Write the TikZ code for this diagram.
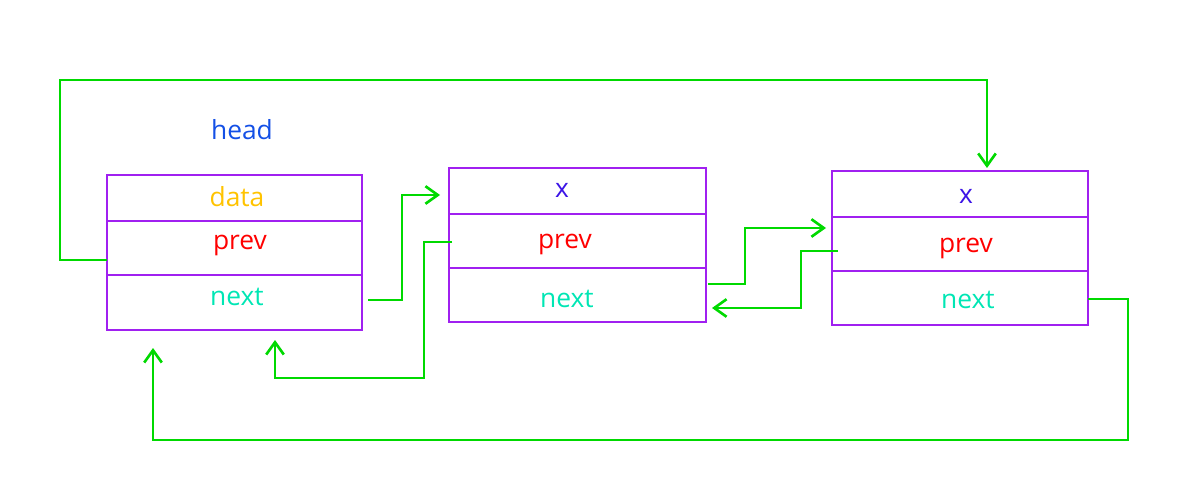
\documentclass[tikz,border=0pt]{standalone}
\usepackage{fontspec}
\setmainfont{Open Sans}
\usetikzlibrary{arrows.meta}
\begin{document}
\begin{tikzpicture}[x=0.02cm,y=-0.02cm,
  box/.style={draw=violet!60!magenta,line width=1.6pt},
  lbl/.style={font=\fontsize{15}{15}\selectfont},
  link/.style={draw=green!85!black,line width=1.5pt,-{Straight Barb[length=7pt,width=10pt]}},
  linkn/.style={draw=green!85!black,line width=1.5pt}]
\useasboundingbox (0,0) rectangle (1200,493);
\definecolor{vio}{HTML}{A020F0}
\tikzset{box/.style={draw=vio,line width=1.6pt}}
% boxes
\draw[box] (107,175) rectangle (362,330); \draw[box] (107,221)--(362,221) (107,275)--(362,275);
\draw[box] (449,168) rectangle (706,322); \draw[box] (449,214)--(706,214) (449,268)--(706,268);
\draw[box] (832,171) rectangle (1088,325); \draw[box] (832,217)--(1088,217) (832,271)--(1088,271);
% texts
\node[lbl,text={rgb,255:red,20;green,80;blue,230}] (head) at (242,130) {head};
\node[lbl,text={rgb,255:red,255;green,195;blue,0}] (d1) at (237,197) {data};
\node[lbl,text=red] (p1) at (240,245) {prev};
\node[lbl,text={rgb,255:red,0;green,230;blue,180}] (n1) at (237,297) {next};
\node[lbl,text={rgb,255:red,60;green,20;blue,230}] (x2) at (562,190) {x};
\node[lbl,text=red] (p2) at (565,244) {prev};
\node[lbl,text={rgb,255:red,0;green,230;blue,180}] (n2) at (567,299) {next};
\node[lbl,text={rgb,255:red,60;green,20;blue,230}] (x3) at (966,196) {x};
\node[lbl,text=red] (p3) at (966,248) {prev};
\node[lbl,text={rgb,255:red,0;green,230;blue,180}] (n3) at (968,300) {next};
% coordinates
\coordinate (a1) at (107,260); \coordinate (a2) at (987,168);
\coordinate (b1) at (368,300); \coordinate (b2) at (440,195);
\coordinate (c1) at (452,242); \coordinate (c2) at (275,340);
\coordinate (e1) at (708,284); \coordinate (e2) at (826,228);
\coordinate (f1) at (838,251); \coordinate (f2) at (712,308);
\coordinate (g1) at (1088,299); \coordinate (g2) at (153,348);
% links
\draw[link] (a1) -- (60,260) -- (60,80) -- (987,80) -- (a2);
\draw[link] (b1) -- (402,300) -- (402,195) -- (b2);
\draw[link] (c1) -- (424,242) -- (424,378) -- (275,378) -- (c2);
\draw[link] (e1) -- (745,284) -- (745,228) -- (e2);
\draw[link] (f1) -- (801,251) -- (801,308) -- (f2);
\draw[link] (g1) -- (1128,299) -- (1128,440) -- (153,440) -- (g2);
\end{tikzpicture}
\end{document}
